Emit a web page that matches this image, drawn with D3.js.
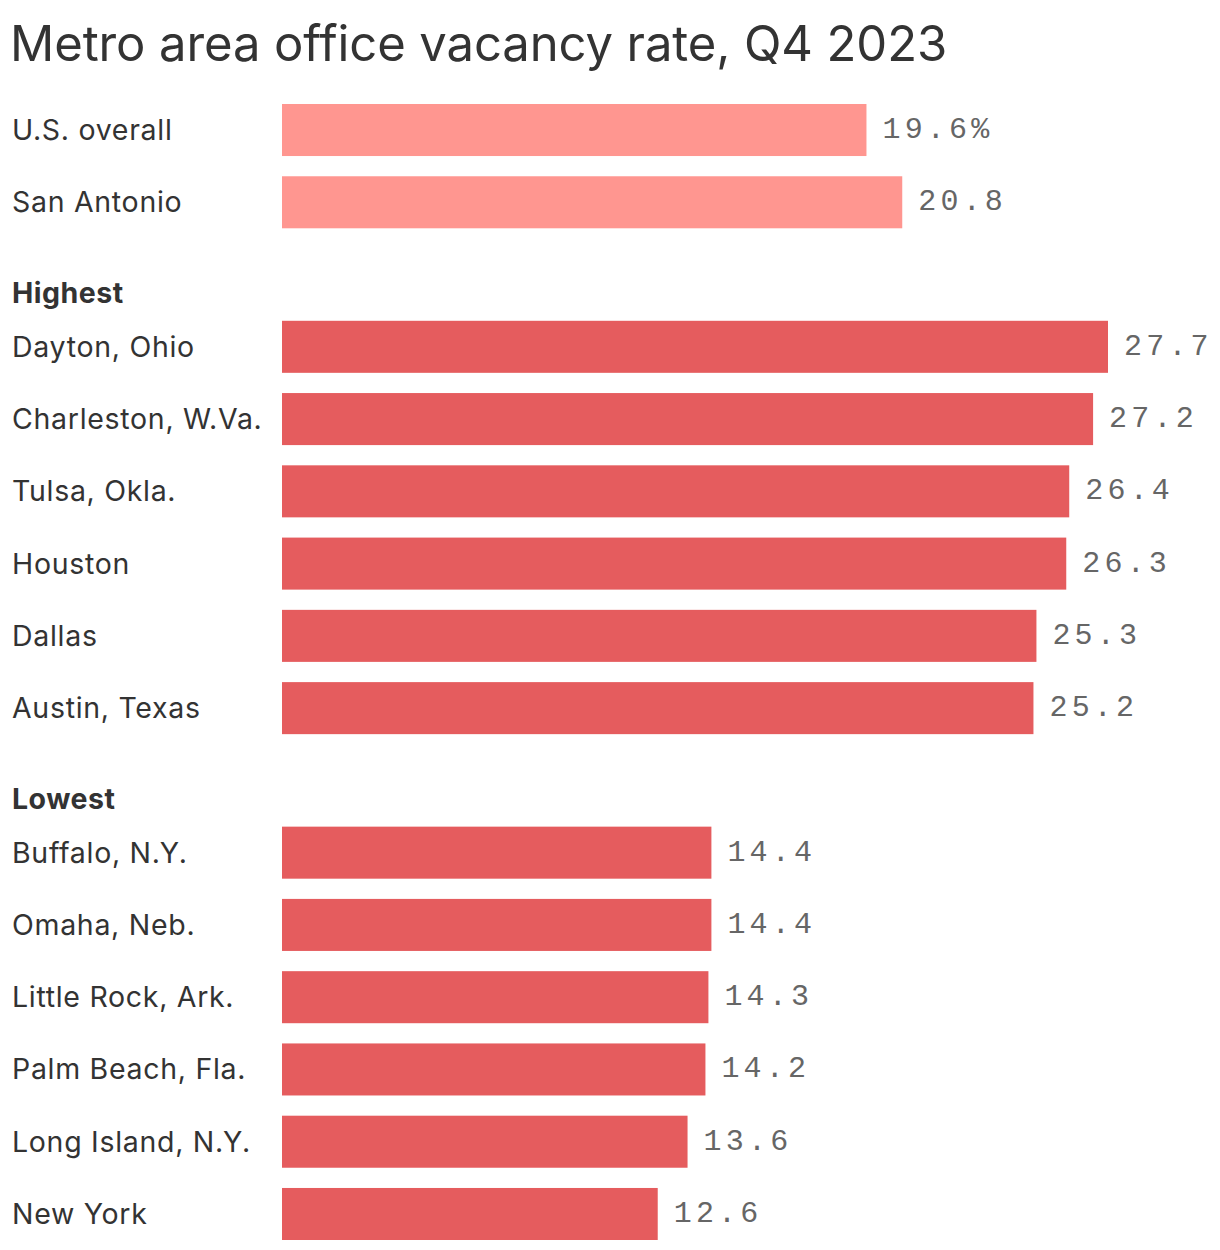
<!DOCTYPE html>
<html>
<head>
<meta charset="utf-8">
<script src="https://cdn.jsdelivr.net/npm/d3@7"></script>
<style>
  html, body { margin: 0; padding: 0; background: #fff; }
  svg { display: block; }
</style>
</head>
<body>
<svg id="chart" width="1220" height="1250"></svg>
<script>
const title = "Metro area office vacancy rate, Q4 2023";
const categories = ["U.S. overall", "San Antonio", "Dayton, Ohio", "Charleston, W.Va.", "Tulsa, Okla.", "Houston", "Dallas", "Austin, Texas", "Buffalo, N.Y.", "Omaha, Neb.", "Little Rock, Ark.", "Palm Beach, Fla.", "Long Island, N.Y.", "New York"];
const values = [19.6, 20.8, 27.7, 27.2, 26.4, 26.3, 25.3, 25.2, 14.4, 14.4, 14.3, 14.2, 13.6, 12.6];
const groups = ["ref", "ref", "high", "high", "high", "high", "high", "high", "low", "low", "low", "low", "low", "low"];
const groupHeaders = { high: "Highest", low: "Lowest" };
const valueLabels = ["19.6%", "20.8", "27.7", "27.2", "26.4", "26.3", "25.3", "25.2", "14.4", "14.4", "14.3", "14.2", "13.6", "12.6"];
const colors = { ref: "#ff9690", high: "#e55c5e", low: "#e55c5e" };

// build row list (headers occupy a row slot)
const rows = [];
let prev = null;
categories.forEach((c, i) => {
  if (groups[i] !== prev && groupHeaders[groups[i]]) {
    rows.push({ key: "header-" + groups[i], header: groupHeaders[groups[i]] });
  }
  rows.push({ key: c, label: c, value: values[i], group: groups[i], vlabel: valueLabels[i] });
  prev = groups[i];
});

const svg = d3.select("#chart");
const x = d3.scaleLinear().domain([0, 27.7]).range([282, 1108]);
const y = d3.scaleBand().domain(rows.map(r => r.key)).range([104, 1240]).paddingInner(0.28).paddingOuter(0);
const bw = y.bandwidth();

svg.append("text")
  .attr("x", 10).attr("y", 61)
  .attr("font-family", "Inter, 'Noto Sans', sans-serif")
  .attr("font-size", 49)
  .attr("fill", "#333")
  .attr("letter-spacing", -0.1)
  .text(title);

const bars = rows.filter(r => !r.header);
const headers = rows.filter(r => r.header);

svg.append("g").selectAll("rect").data(bars).join("rect")
  .attr("x", x(0))
  .attr("y", d => y(d.key))
  .attr("width", d => x(d.value) - x(0))
  .attr("height", bw)
  .attr("fill", d => colors[d.group]);

svg.append("g").selectAll("text").data(bars).join("text")
  .attr("x", 12)
  .attr("y", d => y(d.key) + bw / 2 + 10)
  .attr("font-family", "Inter, 'Noto Sans', sans-serif")
  .attr("font-size", 28.5)
  .attr("letter-spacing", 0.7)
  .attr("fill", "#333")
  .text(d => d.label);

svg.append("g").selectAll("text").data(headers).join("text")
  .attr("x", 12)
  .attr("y", d => y(d.key) + bw + 2.5)
  .attr("font-family", "Inter, 'Noto Sans', sans-serif")
  .attr("font-size", 28.5)
  .attr("font-weight", 700)
  .attr("letter-spacing", 0.5)
  .attr("fill", "#333")
  .text(d => d.header);

svg.append("g").selectAll("text").data(bars).join("text")
  .attr("x", d => x(d.value) + 16)
  .attr("y", d => y(d.key) + bw / 2 + 8)
  .attr("font-family", "'Liberation Mono', 'DejaVu Sans Mono', monospace")
  .attr("font-size", 30)
  .attr("letter-spacing", 4.2)
  .attr("fill", "#666")
  .text(d => d.vlabel);
</script>
</body>
</html>
